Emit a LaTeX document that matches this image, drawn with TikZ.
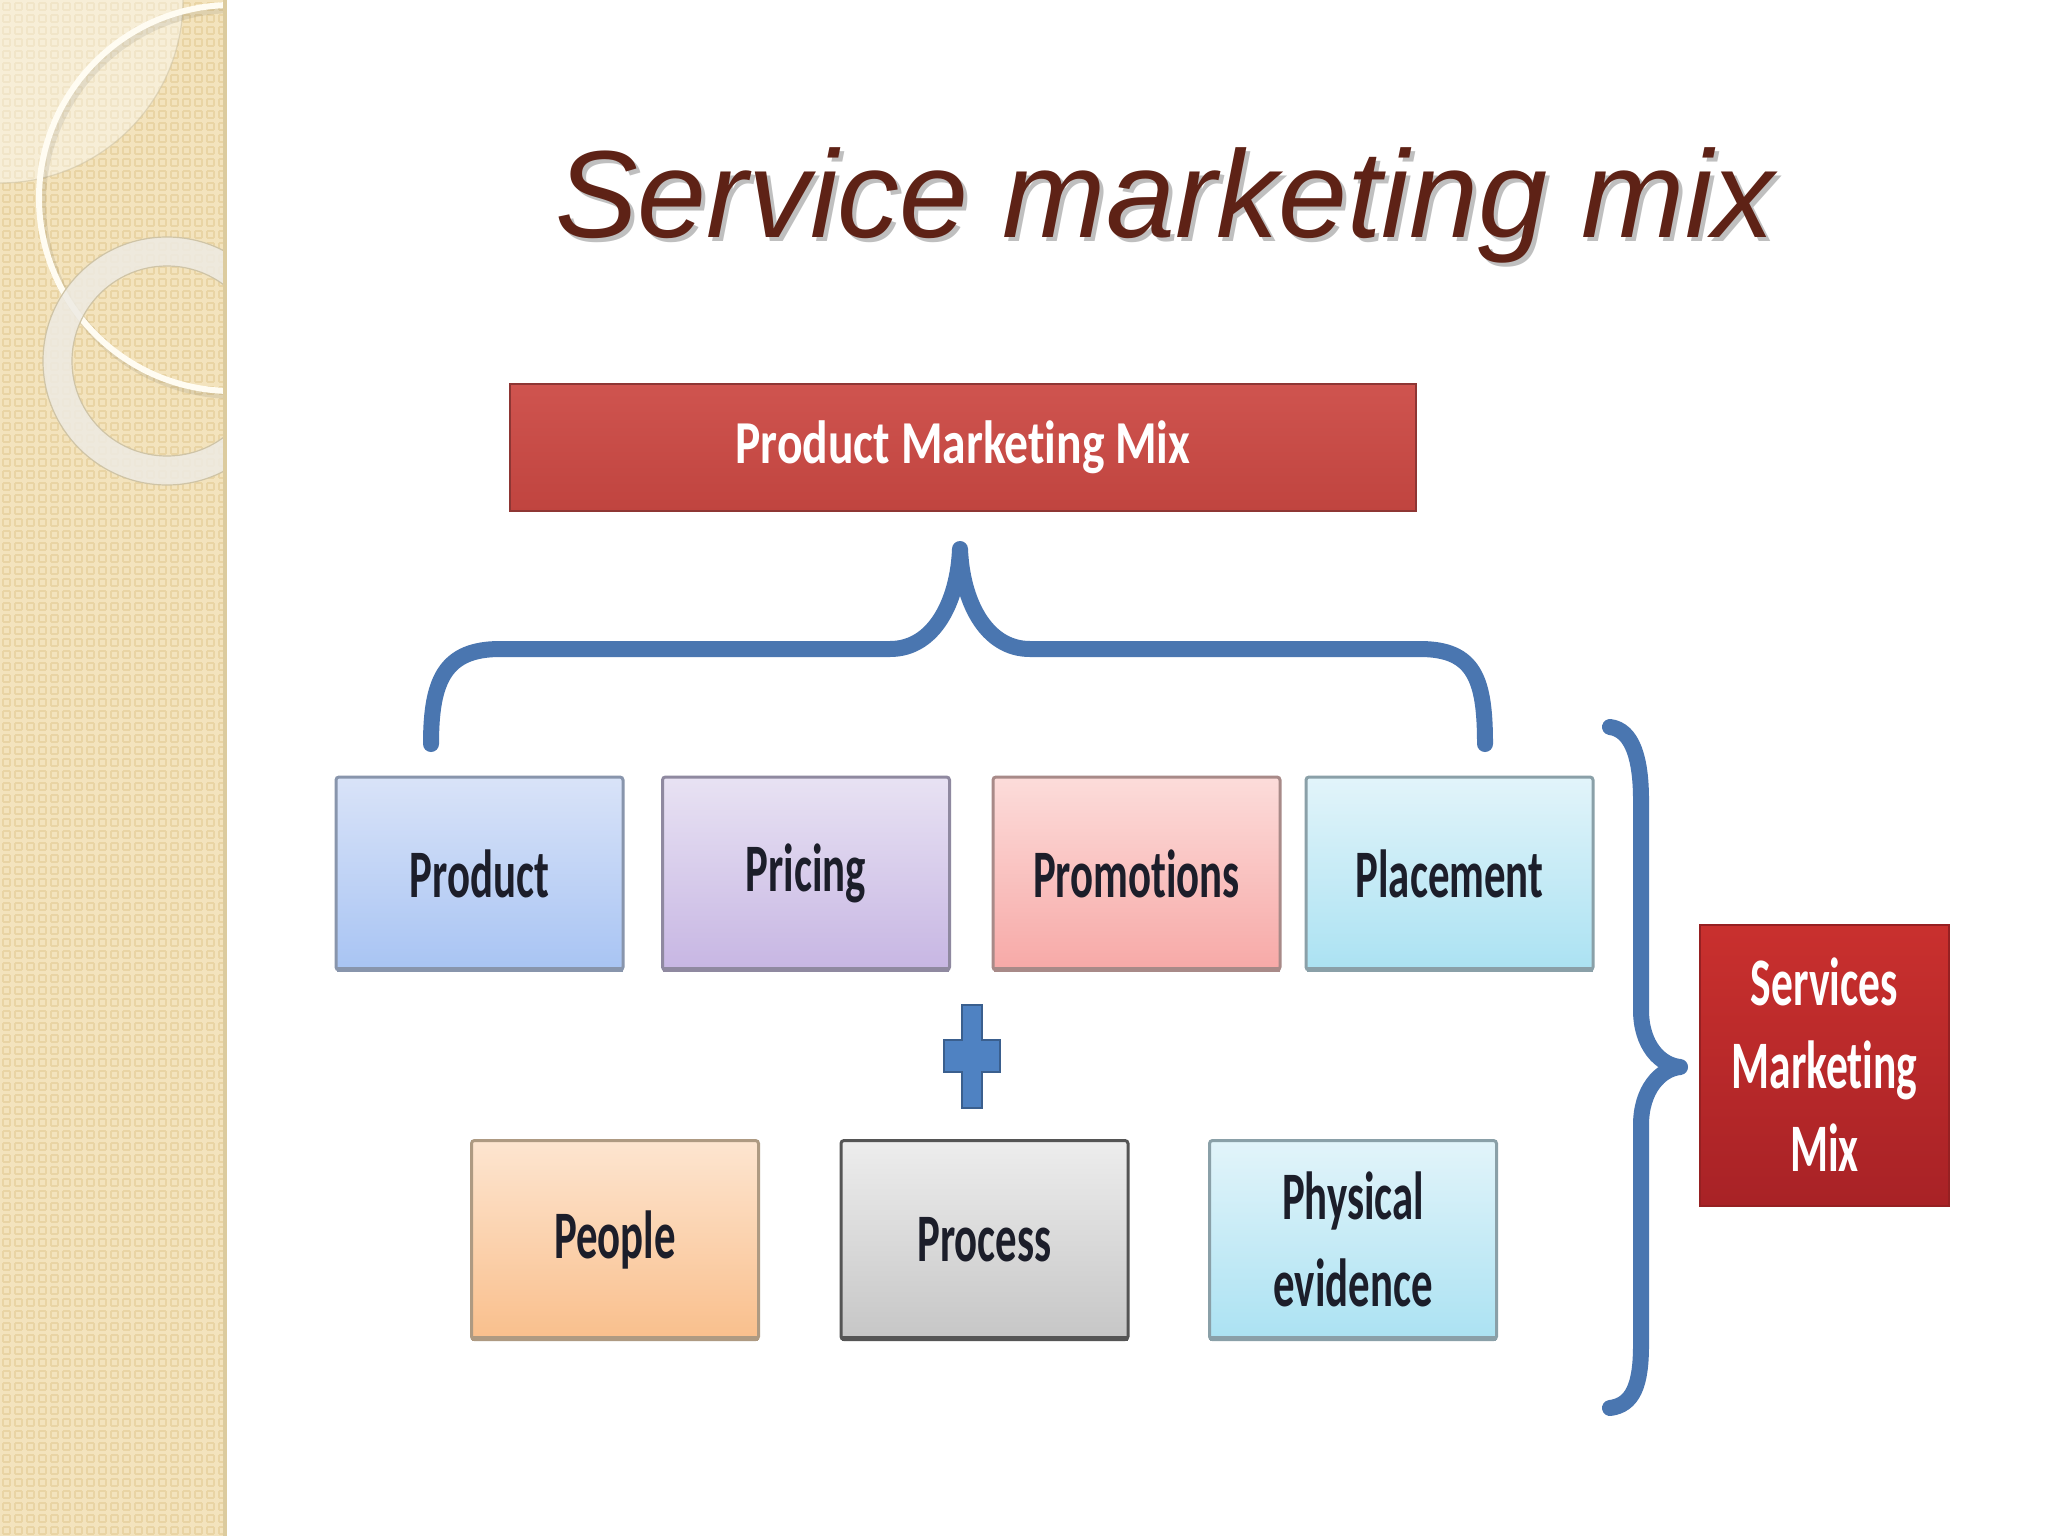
\documentclass[tikz,border=0pt]{standalone}
\usepackage{fontspec}
\usepackage{graphicx}
\setmainfont{Liberation Sans}
\newfontfamily\carl[Ligatures=NoCommon]{Carlito}
\definecolor{band}{HTML}{F3E3BD}
\definecolor{bandline}{HTML}{E9D4A4}
\definecolor{bandedge}{HTML}{DCCB9E}
\definecolor{ringfill}{HTML}{EEEBE3}
\definecolor{ringedge}{HTML}{CFC4A6}
\definecolor{thinring}{HTML}{FFFCF2}
\definecolor{titlec}{HTML}{5E2216}
\definecolor{bracec}{HTML}{4A76B0}
\definecolor{plusd}{HTML}{3A5F8E}
\definecolor{plusc}{HTML}{4F82C2}
\definecolor{txt}{HTML}{1C1E2A}
% box colours
\definecolor{barT}{HTML}{CF544F}\definecolor{barB}{HTML}{C0443F}\definecolor{barD}{HTML}{8E3634}
\definecolor{smmT}{HTML}{C9302E}\definecolor{smmB}{HTML}{A82226}\definecolor{smmD}{HTML}{962022}
\definecolor{prodT}{HTML}{D9E3F8}\definecolor{prodB}{HTML}{A8C4F3}\definecolor{prodD}{HTML}{8895AC}
\definecolor{pricT}{HTML}{E8E2F3}\definecolor{pricB}{HTML}{C7B6E3}\definecolor{pricD}{HTML}{8F89A0}
\definecolor{promT}{HTML}{FCDCDA}\definecolor{promB}{HTML}{F7A9A7}\definecolor{promD}{HTML}{A88A88}
\definecolor{placT}{HTML}{E2F4FA}\definecolor{placB}{HTML}{ABE2F2}\definecolor{placD}{HTML}{8AA0A8}
\definecolor{peopT}{HTML}{FDE5D0}\definecolor{peopB}{HTML}{F9BF8C}\definecolor{peopD}{HTML}{AE9A82}
\definecolor{procT}{HTML}{EDEDED}\definecolor{procB}{HTML}{C6C6C6}\definecolor{procD}{HTML}{555555}
\newcommand{\sq}[2]{\scalebox{#1}[1]{#2}}
\newcommand{\shiftdown}[2]{\raisebox{-#1}[\height][\depth]{#2}}
\tikzset{
  brace/.style={draw=bracec, line width=8pt, line cap=round, line join=round},
  mixbox/.style={rectangle, rounded corners=1.5pt, minimum width=143.5pt, inner sep=0pt,
     line width=1.5pt, text=txt, font=\carl\bfseries\fontsize{34}{43.5}\selectfont},
  rowone/.style={mixbox, minimum height=96.5pt},
  rowtwo/.style={mixbox, minimum height=99.5pt},
  redbox/.style={rectangle, inner sep=0pt, text=white, line width=1.2pt}
}
\begin{document}
\begin{tikzpicture}[x=0.5pt,y=-0.5pt]
\useasboundingbox (0,0) rectangle (2048,1536);
\fill[white] (0,0) rectangle (2048,1536);
% ---- decorative band
\fill[band] (0,0) rectangle (227,1536);
\begin{scope}
  \clip (0,0) rectangle (224,1536);
  \foreach \k in {0,...,127} {
    \draw[bandline, line width=0.7pt, dash pattern=on 3.5pt off 2.5pt] (3,{12*\k+3}) -- (230,{12*\k+3});
    \draw[bandline, line width=0.7pt, dash pattern=on 3.5pt off 2.5pt] (3,{12*\k+10}) -- (230,{12*\k+10});
  }
  \foreach \j in {0,...,18} {
    \draw[bandline, line width=0.7pt, dash pattern=on 3.5pt off 2.5pt] ({12*\j+3},3) -- ({12*\j+3},1540);
    \draw[bandline, line width=0.7pt, dash pattern=on 3.5pt off 2.5pt] ({12*\j+10},3) -- ({12*\j+10},1540);
  }
  \fill[white, opacity=0.4] (0,0) circle[radius=183];
  \draw[ringedge, line width=0.6pt, opacity=0.6] (0,0) circle[radius=183];
  \draw[black, opacity=0.08, line width=4pt] (235,202) circle[radius=193];
  \draw[thinring, line width=3pt] (232,198) circle[radius=193];
  \fill[ringfill, opacity=0.85, even odd rule] (167,361) circle[radius=124] (167,361) circle[radius=95];
  \draw[ringedge, line width=0.6pt] (167,361) circle[radius=124];
  \draw[ringedge, line width=0.6pt] (167,361) circle[radius=95];
\end{scope}
\fill[bandedge] (223,0) rectangle (227,1536);
% ---- title
\node[anchor=base, text=black, opacity=0.25, font=\itshape\fontsize{62}{70}\selectfont] at (1169,241) {Service marketing mix};
\node[anchor=base, text=titlec, font=\itshape\fontsize{62}{70}\selectfont] (title) at (1165,237) {Service marketing mix};
% ---- product marketing mix bar
\node[redbox, minimum width=453pt, minimum height=63.5pt, top color=barT, bottom color=barB, draw=barD,
      font=\carl\bfseries\fontsize{30.5}{36}\selectfont] (pmm) at (963,447.5) {\sq{0.78}{Product Market\kern0pt ing Mix}};
% ---- row one
\node[rowone, top color=prodT, bottom color=prodB, draw=prodD] (prod) at (479.5,873.5) {\sq{0.63}{Product}};
\node[rowone, top color=pricT, bottom color=pricB, draw=pricD] (pric) at (806,873.5) {\sq{0.63}{Pricing}};
\node[rowone, top color=promT, bottom color=promB, draw=promD] (prom) at (1136.5,873.5) {\sq{0.63}{Promot\kern0pt ions}};
\node[rowone, top color=placT, bottom color=placB, draw=placD] (plac) at (1449.5,873.5) {\sq{0.63}{Placement}};
% ---- row two
\node[rowtwo, top color=peopT, bottom color=peopB, draw=peopD] (peop) at (615,1240) {\sq{0.63}{People}};
\node[rowtwo, top color=procT, bottom color=procB, draw=procD] (proc) at (984.5,1240) {\sq{0.63}{Process}};
\node[rowtwo, top color=placT, bottom color=placB, draw=placD] (phys) at (1353,1240) {\shiftdown{3pt}{\sq{0.63}{\begin{tabular}{@{}c@{}}Physical\\evidence\end{tabular}}}};
% bottom edges of boxes
\foreach \n/\c in {prod/prodD, pric/pricD, prom/promD, plac/placD,
                   peop/peopD, proc/procD, phys/placD}
  \draw[\c, line width=2.5pt] ([xshift=1pt,yshift=1.25pt]\n.south west) -- ([xshift=-1pt,yshift=1.25pt]\n.south east);
% ---- services marketing mix
\node[redbox, minimum width=124.5pt, minimum height=140.5pt, top color=smmT, bottom color=smmB, draw=smmD,
      font=\carl\bfseries\fontsize{34}{41.5}\selectfont] (smm) at (1824.5,1065.5)
      {\shiftdown{3pt}{\sq{0.64}{\begin{tabular}{@{}c@{}}Services\\Market\kern0pt ing\\Mix\end{tabular}}}};
% ---- braces
\coordinate (tbl) at (431,744);
\coordinate (tbtip) at (960,549);
\coordinate (tbr) at (1485,744);
\draw[brace] (tbl) .. controls (431,680) and (445,649) .. (500,649) -- (890,649)
   .. controls (935,649) and (958,600) .. (tbtip)
   .. controls (962,600) and (985,649) .. (1030,649) -- (1420,649)
   .. controls (1475,649) and (1485,680) .. (tbr);
\coordinate (rbt) at (1610,727);
\coordinate (rbtip) at (1680,1067);
\coordinate (rbb) at (1610,1408);
\draw[brace] (rbt) .. controls (1633,730) and (1641,760) .. (1641,800) -- (1641,1010)
   .. controls (1641,1045) and (1660,1065) .. (rbtip)
   .. controls (1660,1069) and (1641,1090) .. (1641,1125) -- (1641,1345)
   .. controls (1641,1385) and (1633,1405) .. (rbb);
% ---- plus sign
\filldraw[fill=plusc, draw=plusd, line width=1pt]
  (962,1005) -- (982,1005) -- (982,1040) -- (1000,1040) -- (1000,1072) -- (982,1072) -- (982,1108)
  -- (962,1108) -- (962,1072) -- (944,1072) -- (944,1040) -- (962,1040) -- cycle;
\end{tikzpicture}
\end{document}
